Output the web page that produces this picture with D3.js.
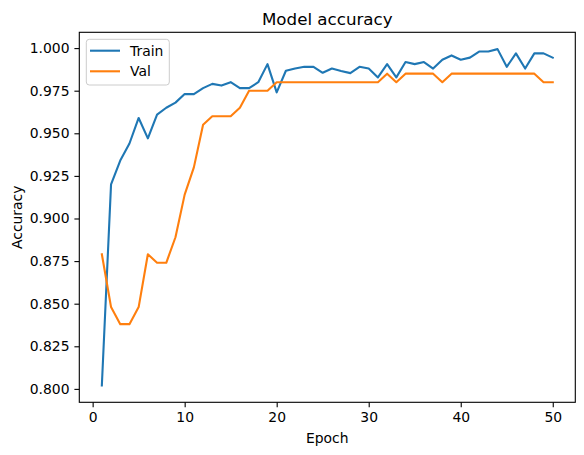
<!DOCTYPE html>
<html>
  <head>
    <script type="text/javascript" src="https://cdn.jsdelivr.net/npm/d3@7/dist/d3.min.js"></script>
    <style>
      body { margin: 0; background: #fff; }
      text { font-family: "DejaVu Sans", sans-serif; fill: #000; }
    </style>
  </head>
  <body>
  <script type='text/javascript'>

    // data
    var epochs = [1,2,3,4,5,6,7,8,9,10,11,12,13,14,15,16,17,18,19,20,
                  21,22,23,24,25,26,27,28,29,30,31,32,33,34,35,36,37,38,39,40,
                  41,42,43,44,45,46,47,48,49,50];
    var train = [0.802,0.920,0.934,0.944,0.959,0.947,0.961,0.965,0.968,0.973,
                 0.973,0.9765,0.979,0.978,0.980,0.9765,0.9765,0.980,0.9906,0.974,
                 0.9867,0.988,0.989,0.989,0.9855,0.988,0.9865,0.9853,0.989,0.988,
                 0.9828,0.9906,0.9828,0.9918,0.9906,0.9918,0.988,0.9932,0.9957,0.9932,
                 0.9944,0.998,0.998,0.9994,0.989,0.9969,0.988,0.9969,0.9969,0.9944];
    var val = [0.879,0.848,0.838,0.838,0.848,0.879,0.874,0.874,0.889,0.914,
               0.930,0.955,0.960,0.960,0.960,0.965,0.975,0.975,0.975,0.980,
               0.980,0.980,0.980,0.980,0.980,0.980,0.980,0.980,0.980,0.980,
               0.980,0.985,0.980,0.985,0.985,0.985,0.985,0.980,0.985,0.985,
               0.985,0.985,0.985,0.985,0.985,0.985,0.985,0.985,0.980,0.980];
    var seriesNames = ["Train", "Val"];
    var xTicks = [0, 10, 20, 30, 40, 50];
    var yTicks = [0.800, 0.825, 0.850, 0.875, 0.900, 0.925, 0.950, 0.975, 1.000];

    var W = 584, H = 455;
    var LEFT = 79.3, RIGHT = 575.3, TOP = 32.3, BOTTOM = 402.3;
    var COLORS = ["#1f77b4", "#ff7f0e"];

    var svg = d3.select("body").append("svg")
        .attr("width", W)
        .attr("height", H);

    // matplotlib style 5% margins
    var xmin = d3.min(epochs), xmax = d3.max(epochs);
    var xpad = (xmax - xmin) * 0.05;
    var ymin = d3.min(train.concat(val)), ymax = d3.max(train.concat(val));
    var ypad = (ymax - ymin) * 0.05;

    var x = d3.scaleLinear().domain([xmin - xpad, xmax + xpad]).range([LEFT, RIGHT]);
    var y = d3.scaleLinear().domain([ymin - ypad, ymax + ypad]).range([BOTTOM, TOP]);

    // axes
    var xAxis = d3.axisBottom(x).tickValues(xTicks).tickSize(4.9).tickPadding(4.9);
    var yAxis = d3.axisLeft(y).tickValues(yTicks).tickSize(4.9).tickPadding(4.9)
        .tickFormat(d3.format(".3f"));

    var gx = svg.append("g").attr("transform", "translate(0," + BOTTOM + ")").call(xAxis);
    var gy = svg.append("g").attr("transform", "translate(" + LEFT + ",0)").call(yAxis);
    [gx, gy].forEach(function(g){
      g.select(".domain").remove();
      g.selectAll(".tick line").attr("stroke", "#000").attr("stroke-width", 1.1);
      g.selectAll(".tick text").style("font-size", "13.9px").attr("fill", "#000");
    });

    // lines
    var line = d3.line()
        .x(function(d, i){ return x(epochs[i]); })
        .y(function(d){ return y(d); });

    [train, val].forEach(function(s, k){
      svg.append("path")
          .datum(s)
          .attr("d", line)
          .attr("fill", "none")
          .attr("stroke", COLORS[k])
          .attr("stroke-width", 2.1)
          .attr("stroke-linejoin", "round")
          .attr("stroke-linecap", "square");
    });

    // frame
    svg.append("rect")
        .attr("x", LEFT).attr("y", TOP)
        .attr("width", RIGHT - LEFT).attr("height", BOTTOM - TOP)
        .attr("fill", "none").attr("stroke", "#000").attr("stroke-width", 1.1);

    // legend
    var leg = svg.append("g");
    leg.append("rect")
        .attr("x", 86.3).attr("y", 39.3)
        .attr("width", 83).attr("height", 45.7)
        .attr("rx", 3).attr("ry", 3)
        .attr("fill", "#fff").attr("fill-opacity", 0.8)
        .attr("stroke", "#cccccc").attr("stroke-width", 1);
    seriesNames.forEach(function(n, k){
      var ly = 50.7 + k * 20.6;
      leg.append("line")
          .attr("x1", 90).attr("x2", 120)
          .attr("y1", ly).attr("y2", ly)
          .attr("stroke", COLORS[k]).attr("stroke-width", 2.1);
      leg.append("text")
          .attr("x", 130).attr("y", ly + 5)
          .style("font-size", "13.9px")
          .text(n);
    });

    // titles
    svg.append("text")
        .attr("x", (LEFT + RIGHT) / 2).attr("y", 25)
        .attr("text-anchor", "middle")
        .style("font-size", "16.7px")
        .text("Model accuracy");

    svg.append("text")
        .attr("x", (LEFT + RIGHT) / 2).attr("y", 442.5)
        .attr("text-anchor", "middle")
        .style("font-size", "13.9px")
        .text("Epoch");

    svg.append("text")
        .attr("transform", "translate(21.5," + (TOP + BOTTOM) / 2 + ") rotate(-90)")
        .attr("text-anchor", "middle")
        .style("font-size", "13.9px")
        .text("Accuracy");

  </script>
  </body>
</html>
